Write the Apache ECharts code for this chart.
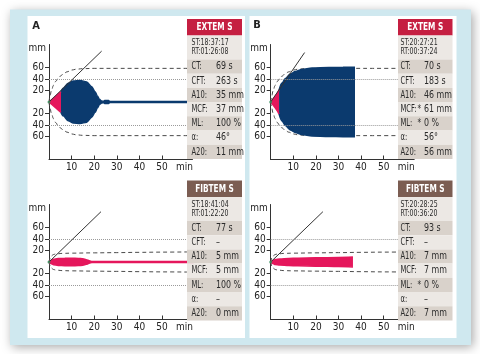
<!DOCTYPE html>
<html>
<head>
<meta charset="utf-8">
<script src="https://cdn.jsdelivr.net/npm/echarts@6/dist/echarts.min.js"></script>
<style>
  html, body { margin: 0; padding: 0; background: #fff; }
  #rotem { width: 480px; height: 354px; }
</style>
</head>
<body>
<div id="rotem"></div>
<script>
  // ---- data ----
  // reference envelope (dashed), amplitude in mm against minutes
  const extemEnvT   = [0, 0.5, 1, 2, 3, 4, 5, 6.5, 8, 10, 12, 15, 20, 30, 45, 64];
  const extemEnvAmp = [0, 11, 19, 29, 36, 41, 45, 49.5, 52.5, 55.5, 57, 58, 58.5, 58.5, 58.5, 58.5];
  const fibtemEnvT   = [0, 0.5, 1, 2, 3, 6, 10, 20, 30, 40, 50, 64];
  const fibtemEnvAmp = [0, 7, 10.5, 13, 14, 15, 15.4, 15.9, 16.3, 16.8, 17.2, 17.6];

  // A - EXTEM S
  const aExtemPinkT   = [0, 5.3];
  const aExtemPinkAmp = [0, 18];
  const aExtemNavyT   = [5.3, 6.3, 8.5, 10.8, 13.7, 16.7, 18.9, 20.4, 21.4, 22.3, 23.3, 24.2, 24.6, 26.4, 26.8, 28, 64];
  const aExtemNavyAmp = [18, 24, 32.5, 36.5, 37.5, 35, 26.5, 18, 10.5, 4.6, 1.8, 1.2, 2.5, 2.5, 1.0, 0.8, 0.8];
  // B - EXTEM S
  const bExtemPinkT   = [0, 1, 2, 3, 3.7];
  const bExtemPinkAmp = [0, 5, 10, 16, 21];
  const bExtemNavyT   = [3.7, 5, 6.5, 8.7, 10.9, 13.8, 18.3, 25.7, 32, 37.3];
  const bExtemNavyAmp = [21, 33, 41, 48.5, 53, 56.5, 59, 60, 60.3, 60.5];
  // A - FIBTEM S
  const aFibT   = [0, 1, 2, 4, 7, 10, 13, 15, 16.5, 17.8, 19, 64];
  const aFibAmp = [0, 3, 4.8, 6, 6.5, 6.6, 6.3, 5.5, 4, 2, 0.8, 0.8];
  // B - FIBTEM S
  const bFibT   = [0, 1, 2, 4, 8, 12, 20, 30, 36.4];
  const bFibAmp = [0, 2.8, 4.3, 5.4, 6.2, 6.7, 7.2, 7.9, 8.5];

  // alpha tangent end points [min, mm] for A-extem, B-extem, A-fibtem, B-fibtem
  const tangentEnds = [[23.3, 88.5], [15, 86], [23, 87.5], [23.1, 87.5]];

  const yTickValues  = [-60, -40, -20, 20, 40, 60];
  const xTickValues  = [10, 20, 30, 40, 50];
  const xLabelValues = [10, 20, 30, 40, 50, 60];   // 60 carries the "min" unit
  const refLevels    = [40, -40];

  // tables
  const paramLabels   = ['CT:', 'CFT:', 'A10:', 'MCF:', 'ML:', 'α:', 'A20:'];
  const extemAValues  = ['69 s', '263 s', '35 mm', '37 mm', '100 %', '46°', '11 mm'];
  const extemBValues  = ['70 s', '183 s', '46 mm', '61 mm', '0 %', '56°', '56 mm'];
  const fibtemAValues = ['77 s', '–', '5 mm', '5 mm', '100 %', '–', '0 mm'];
  const fibtemBValues = ['93 s', '–', '7 mm', '7 mm', '0 %', '–', '7 mm'];
  const extemBStars   = ['', '', '', '*', '*', '', ''];
  const fibtemBStars  = ['', '', '', '', '*', '', ''];
  const noStars       = ['', '', '', '', '', '', ''];
  const extemATimes   = ['ST:18:37:17', 'RT:01:26:08'];
  const extemBTimes   = ['ST:20:27:21', 'RT:00:37:24'];
  const fibtemATimes  = ['ST:18:41:04', 'RT:01:22:20'];
  const fibtemBTimes  = ['ST:20:28:25', 'RT:00:36:20'];

  // ---- styling ----
  const FONT = '"Liberation Sans Narrow", "DejaVu Sans Condensed", "Noto Sans", sans-serif';
  const NAVY = '#0b3a6e';
  const PINK = '#e5175c';
  const RED_HEAD = '#c51f41';
  const BROWN_HEAD = '#7b5d52';
  const ROW_DARK = '#d9d2cb';
  const ROW_LIGHT = '#ece8e4';

  const grids = [
    { left: 49, top: 44.5, width: 143.5, height: 115 },
    { left: 270.7, top: 44.5, width: 143.5, height: 115 },
    { left: 49, top: 204.5, width: 143.5, height: 115 },
    { left: 270.7, top: 204.5, width: 143.5, height: 115 }
  ];

  function pairs(t, v, sign) {
    return t.map((x, i) => [x, sign * v[i]]);
  }

  // filled trace, mirrored round the baseline
  function filled(gi, t, amp, color, smooth) {
    return [1, -1].map(s => ({
      type: 'line', xAxisIndex: gi, yAxisIndex: gi,
      data: pairs(t, amp, s),
      symbol: 'none', smooth: smooth, smoothMonotone: 'x',
      lineStyle: { color: color, width: 1.5 },
      areaStyle: { color: color, opacity: 1 },
      z: 3, silent: true
    }));
  }

  function envelope(gi, t, amp) {
    return [1, -1].map((s, k) => ({
      type: 'line', xAxisIndex: gi, yAxisIndex: gi,
      data: pairs(t, amp, s),
      symbol: 'none', smooth: 0.4, smoothMonotone: 'x',
      lineStyle: { color: '#4a4a4a', width: 1, type: [4, 3] },
      z: 2, silent: true,
      markLine: k === 0 ? {
        silent: true, symbol: 'none', label: { show: false },
        lineStyle: { type: 'dotted', color: '#9a9a9a', width: 1 },
        data: refLevels.map(v => ({ yAxis: v }))
      } : undefined
    }));
  }

  function extras(gi) {
    return [
      {
        type: 'line', xAxisIndex: gi, yAxisIndex: gi,
        data: [[0, 0], tangentEnds[gi]], symbol: 'none',
        lineStyle: { color: '#333', width: 1 }, z: 4, silent: true
      },
      {
        type: 'scatter', xAxisIndex: gi, yAxisIndex: gi,
        data: [[0, 0]], symbolSize: 3, itemStyle: { color: '#2e8b57' }, z: 5, silent: true
      }
    ];
  }

  const series = [].concat(
    envelope(0, extemEnvT, extemEnvAmp),
    filled(0, aExtemPinkT, aExtemPinkAmp, PINK, false),
    filled(0, aExtemNavyT, aExtemNavyAmp, NAVY, 0.3),
    extras(0),
    envelope(1, extemEnvT, extemEnvAmp),
    filled(1, bExtemPinkT, bExtemPinkAmp, PINK, false),
    filled(1, bExtemNavyT, bExtemNavyAmp, NAVY, 0.3),
    extras(1),
    envelope(2, fibtemEnvT, fibtemEnvAmp),
    filled(2, aFibT, aFibAmp, PINK, 0.3),
    extras(2),
    envelope(3, fibtemEnvT, fibtemEnvAmp),
    filled(3, bFibT, bFibAmp, PINK, 0.3),
    extras(3)
  );

  const xAxes = grids.map((g, i) => ({
    gridIndex: i, type: 'value', min: 0, max: 63.5, interval: 10,
    axisLine: { show: true, onZero: false, lineStyle: { color: '#333', width: 1 } },
    axisTick: { show: true, inside: true, length: 4, customValues: xTickValues, lineStyle: { color: '#333' } },
    axisLabel: {
      customValues: xLabelValues, margin: 3, color: '#222', fontSize: 10, fontFamily: FONT,
      formatter: v => (v === 60 ? 'min' : String(v))
    },
    splitLine: { show: false }
  }));

  const yAxes = grids.map((g, i) => ({
    gridIndex: i, type: 'value', min: -100, max: 100, interval: 20,
    name: 'mm', nameLocation: 'end', nameGap: -4,
    nameTextStyle: { align: 'right', verticalAlign: 'middle', padding: [0, 3, 0, 0], color: '#222', fontSize: 10, fontFamily: FONT },
    axisLine: { show: true, onZero: false, lineStyle: { color: '#333', width: 1 } },
    axisTick: { show: true, length: 4, customValues: yTickValues, lineStyle: { color: '#333' } },
    axisLabel: {
      customValues: yTickValues, margin: 5, color: '#222', fontSize: 10, fontFamily: FONT,
      formatter: v => String(Math.abs(v))
    },
    splitLine: { show: false }
  }));

  // text squeezed horizontally, the original uses a condensed face
  function txt(x, y, text, font, fill, align, sx) {
    return {
      type: 'text', z: 101, silent: true, x: x, y: y, scaleX: sx || 1,
      style: { x: 0, y: 0, text: text, font: font, fill: fill, textAlign: align || 'left', textVerticalAlign: 'middle' }
    };
  }

  function buildTable(x, top, w, headColor, headText, times, values, stars, labelX, valueX) {
    const els = [];
    const small = '10px ' + FONT;
    const ink = '#2b2b2b';
    els.push({ type: 'rect', z: 100, silent: true, shape: { x: x, y: top, width: w, height: 16.5 }, style: { fill: headColor } });
    els.push(txt(x + w / 2, top + 8.5, headText, 'bold 10px ' + FONT, '#fff', 'center', 0.82));
    els.push({ type: 'rect', z: 100, silent: true, shape: { x: x, y: top + 16.5, width: w, height: 24 }, style: { fill: ROW_LIGHT } });
    els.push(txt(labelX, top + 24, times[0], '9px ' + FONT, ink, 'left', 0.77));
    els.push(txt(labelX, top + 33, times[1], '9px ' + FONT, ink, 'left', 0.77));
    paramLabels.forEach((lab, i) => {
      const y0 = top + 40.5 + i * 14.2;
      els.push({ type: 'rect', z: 100, silent: true, shape: { x: x, y: y0, width: w, height: 14.2 }, style: { fill: i % 2 === 0 ? ROW_DARK : ROW_LIGHT } });
      els.push(txt(labelX, y0 + 7.3, lab, small, ink, 'left', 0.75));
      if (stars[i]) els.push(txt(labelX + 17, y0 + 7.3, stars[i], small, ink, 'left', 0.8));
      els.push(txt(valueX, y0 + 7.3, values[i], small, ink, 'left', 0.88));
    });
    return els;
  }

  const graphic = [
    { type: 'rect', z: -5, silent: true, shape: { x: 10, y: 9.5, width: 461, height: 335.5 },
      style: { fill: '#cfe8ef', shadowBlur: 10, shadowColor: 'rgba(0,0,0,0.35)', shadowOffsetX: 2, shadowOffsetY: 2 } },
    { type: 'rect', z: -4, silent: true, shape: { x: 27.5, y: 16, width: 217.5, height: 322 }, style: { fill: '#fff' } },
    { type: 'rect', z: -4, silent: true, shape: { x: 249.5, y: 16, width: 207, height: 322 }, style: { fill: '#fff' } },
    txt(36, 26, 'A', 'bold 11px ' + FONT, '#222', 'center'),
    txt(257, 25.5, 'B', 'bold 11px ' + FONT, '#222', 'center')
  ].concat(
    buildTable(187, 19, 55, RED_HEAD, 'EXTEM S', extemATimes, extemAValues, noStars, 191.5, 216),
    buildTable(398, 19, 54.5, RED_HEAD, 'EXTEM S', extemBTimes, extemBValues, extemBStars, 400.5, 424),
    buildTable(187, 180.5, 55, BROWN_HEAD, 'FIBTEM S', fibtemATimes, fibtemAValues, noStars, 191.5, 216),
    buildTable(398, 180.5, 54.5, BROWN_HEAD, 'FIBTEM S', fibtemBTimes, fibtemBValues, fibtemBStars, 400.5, 424)
  );

  const chart = echarts.init(document.getElementById('rotem'), null, { renderer: 'canvas' });
  chart.setOption({
    animation: false,
    grid: grids.map(g => Object.assign({ containLabel: false, outerBoundsMode: 'none' }, g)),
    xAxis: xAxes,
    yAxis: yAxes,
    series: series,
    graphic: graphic
  });
</script>
</body>
</html>
